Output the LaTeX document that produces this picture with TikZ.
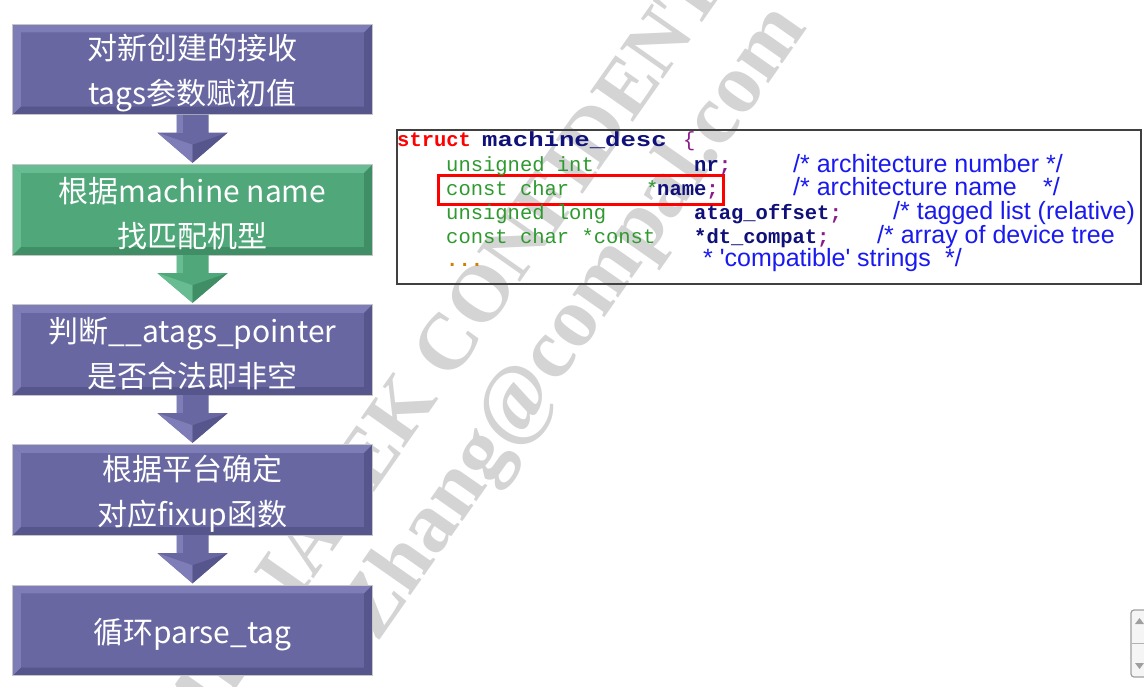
\documentclass[tikz,border=0pt]{standalone}
\usepackage{fontspec}
\usepackage{graphicx}
\newfontfamily\cjk{Noto Sans CJK SC}
\newfontfamily\codefont{Liberation Mono}
\newfontfamily\cmtfont{Liberation Sans}
\newfontfamily\wmfont{Liberation Serif}
\usetikzlibrary{calc}
\definecolor{pbox}{HTML}{6867A1}
\definecolor{pboxL}{HTML}{7E7DB8}
\definecolor{pboxD}{HTML}{56558C}
\definecolor{gbox}{HTML}{4FA77A}
\definecolor{gboxL}{HTML}{67BD91}
\definecolor{gboxD}{HTML}{3F8E65}
\definecolor{codegreen}{HTML}{2E9A2E}
\definecolor{codenavy}{HTML}{10107A}
\definecolor{codepurple}{HTML}{8B1A8B}
\definecolor{cmtblue}{HTML}{1A1AF0}
\definecolor{wmgray}{HTML}{D4D4D4}
\definecolor{dotorange}{HTML}{D08000}
\tikzset{
  flowbox/.style={minimum width=359pt, minimum height=90pt, inner sep=0pt},
  boxtext/.style={inner sep=0pt, text=white, align=center, font=\cjk\fontsize{30}{45}\selectfont},
  code/.style={font=\codefont\fontsize{20.5}{24}\selectfont, inner sep=0pt, anchor=base west},
  codeb/.style={font=\codefont\bfseries\fontsize{20.5}{24}\selectfont, inner sep=0pt, anchor=base west},
  cmt/.style={font=\cmtfont\fontsize{25}{28}\selectfont, text=cmtblue, inner sep=0pt, anchor=base west},
  wm/.style={font=\wmfont\bfseries, text=wmgray, inner sep=0pt, anchor=base west, rotate=55}
}
\newcommand\bevbox[6]{%
  \node[flowbox, fill=#3] (#1) at (192.5,#2) {};
  \fill[#4] (#1.north west) -- (#1.north east) -- ($(#1.north east)+(-8,8)$) -- ($(#1.north west)+(8,8)$) -- cycle;
  \fill[#4] (#1.north west) -- ($(#1.north west)+(8,8)$) -- ($(#1.south west)+(8,-8)$) -- (#1.south west) -- cycle;
  \fill[#5] (#1.south west) -- (#1.south east) -- ($(#1.south east)+(-8,-8)$) -- ($(#1.south west)+(8,-8)$) -- cycle;
  \fill[#5] (#1.north east) -- ($(#1.north east)+(-8,8)$) -- ($(#1.south east)+(-8,-8)$) -- (#1.south east) -- cycle;
  \draw[gray!45, line width=1pt] (#1.north west) rectangle (#1.south east);
  \node[boxtext] (#1t) at ($(#1.center)+(0,4)$) {#6};
}
\newcommand\blockarrow[5]{%
  \fill[#3] ($(#1.south)+(-16,0)$) -- ($(#1.south)+(16,0)$) -- ($(#1.south)+(16,18)$) -- ($(#1.south)+(35,18)$)
    -- ($(#2.north)+(0,-2)$) -- ($(#1.south)+(-35,18)$) -- ($(#1.south)+(-16,18)$) -- cycle;
  \fill[#4] ($(#1.south)+(-35,18)$) -- ($(#1.south)+(0,30)$) -- ($(#2.north)+(0,-2)$) -- cycle;
  \fill[#4] ($(#1.south)+(-16,0)$) rectangle ($(#1.south)+(-10,18)$);
  \fill[#5] ($(#1.south)+(35,18)$) -- ($(#1.south)+(0,30)$) -- ($(#2.north)+(0,-2)$) -- cycle;
}
\begin{document}
\begin{tikzpicture}[x=1pt,y=-1pt]
\useasboundingbox (0,0) rectangle (1144,686);
\clip (0,0) rectangle (1144,686);
\fill[white] (0,0) rectangle (1144,686);

% watermark
\node[wm, font=\wmfont\bfseries\fontsize{80}{90}\selectfont] (wm1) at (188,758) {MEDIATEK CONFIDENTIAL};
\node[wm, font=\wmfont\bfseries\fontsize{85}{95}\selectfont] (wm2) at (377,644) {Zhang@compal.com};

% flow boxes
\bevbox{b1}{69.5}{pbox}{pboxL}{pboxD}{对新创建的接收\\tags参数赋初值}
\bevbox{b2}{210}{gbox}{gboxL}{gboxD}{根据machine name\\找匹配机型}
\bevbox{b3}{350}{pbox}{pboxL}{pboxD}{判断\_\_atags\_pointer\\是否合法即非空}
\bevbox{b4}{490}{pbox}{pboxL}{pboxD}{根据平台确定\\对应fixup函数}
\bevbox{b5}{630.5}{pbox}{pboxL}{pboxD}{循环parse\_tag}

\blockarrow{b1}{b2}{pbox}{pboxL}{pboxD}
\blockarrow{b2}{b3}{gbox}{gboxL}{gboxD}
\blockarrow{b3}{b4}{pbox}{pboxL}{pboxD}
\blockarrow{b4}{b5}{pbox}{pboxL}{pboxD}

% code box
\node[draw=black!75, line width=1.5pt, minimum width=744pt, minimum height=154pt, inner sep=0pt] (code) at (769,207) {};
\node[draw=red, line width=3pt, minimum width=285pt, minimum height=29pt, inner sep=0pt] (hl) at (580.5,189.5) {};

\node[codeb, text=red] (s1) at (397,146) {struct};
\node[codeb, text=codenavy] (s2) at (482,146) {\scalebox{1.25}[1]{machine\_desc}};
\node[code, text=codepurple] (s3) at (683,146) {\{};

\node[code, text=codegreen] (r1a) at (446,171) {unsigned int};
\node[codeb, text=codenavy] (r1b) at (694,171) {nr\textcolor{codepurple}{;}};
\node[cmt] (r1c) at (793,172) {/* architecture number */};

\node[code, text=codegreen] (r2a) at (446,195) {const char};
\node[code, text=codegreen] (r2s) at (646,195) {*};
\node[codeb, text=codenavy] (r2b) at (657,195) {name\textcolor{codepurple}{;}};
\node[cmt] (r2c) at (793,195) {/* architecture name};
\node[cmt] (r2d) at (1043,195) {*/};

\node[code, text=codegreen] (r3a) at (446,219) {unsigned long};
\node[codeb, text=codenavy] (r3b) at (694,219) {atag\_offset\textcolor{codepurple}{;}};
\node[cmt] (r3c) at (893,219) {/* tagged list (relative)};

\node[code, text=codegreen] (r4a) at (446,243) {const char *const};
\node[codeb, text=codenavy] (r4b) at (694,243) {*dt\_compat\textcolor{codepurple}{;}};
\node[cmt] (r4c) at (877,243) {/* array of device tree};

\node[codeb, text=dotorange] (r5a) at (446,266) {...};
\node[cmt] (r5b) at (703,266) {* \textquotesingle compatible\textquotesingle{} strings};
\node[cmt] (r5c) at (945,266) {*/};

% scrollbar
\filldraw[draw=gray!75, fill=gray!8, line width=1.2pt, rounded corners=3pt] (1131,610) rectangle (1152,677);
\draw[gray!60] (1132,643) -- (1150,643);
\fill[gray!75] (1135,624) -- (1144,624) -- (1139.5,618) -- cycle;
\fill[gray!75] (1135,663) -- (1144,663) -- (1139.5,669) -- cycle;
\end{tikzpicture}
\end{document}
